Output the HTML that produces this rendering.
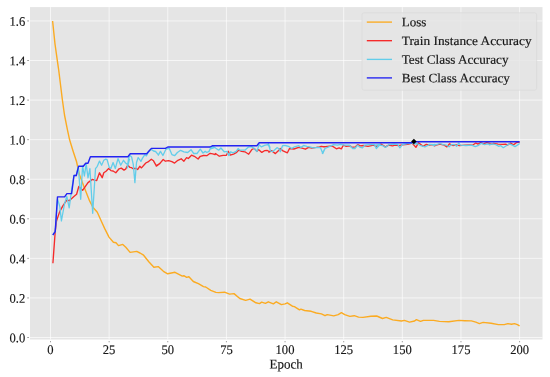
<!DOCTYPE html>
<html><head><meta charset="utf-8"><title>Training curves</title>
<style>
html,body{margin:0;padding:0;background:#fff;}
body{width:550px;height:377px;overflow:hidden;}
svg{display:block;}
text{font-family:"Liberation Serif","DejaVu Serif",serif;fill:#161616;stroke:#161616;stroke-width:0.18px;}
.tl text{font-size:13.1px;stroke-width:0.15px;}
.lg text{font-size:13.35px;}
</style></head><body>
<svg width="550" height="377" viewBox="0 0 550 377">
<rect x="0" y="0" width="550" height="377" fill="#ffffff"/>
<rect x="30.0" y="7.1" width="512.5" height="332.4" fill="#e5e5e5"/>
<g stroke="#ffffff" stroke-width="0.65" fill="none"><line x1="50.50" y1="7.1" x2="50.50" y2="339.5"/><line x1="109.14" y1="7.1" x2="109.14" y2="339.5"/><line x1="167.77" y1="7.1" x2="167.77" y2="339.5"/><line x1="226.41" y1="7.1" x2="226.41" y2="339.5"/><line x1="285.05" y1="7.1" x2="285.05" y2="339.5"/><line x1="343.69" y1="7.1" x2="343.69" y2="339.5"/><line x1="402.32" y1="7.1" x2="402.32" y2="339.5"/><line x1="460.96" y1="7.1" x2="460.96" y2="339.5"/><line x1="519.60" y1="7.1" x2="519.60" y2="339.5"/><line x1="30.0" y1="337.50" x2="542.5" y2="337.50"/><line x1="30.0" y1="297.93" x2="542.5" y2="297.93"/><line x1="30.0" y1="258.36" x2="542.5" y2="258.36"/><line x1="30.0" y1="218.79" x2="542.5" y2="218.79"/><line x1="30.0" y1="179.22" x2="542.5" y2="179.22"/><line x1="30.0" y1="139.65" x2="542.5" y2="139.65"/><line x1="30.0" y1="100.08" x2="542.5" y2="100.08"/><line x1="30.0" y1="60.51" x2="542.5" y2="60.51"/><line x1="30.0" y1="20.94" x2="542.5" y2="20.94"/></g>
<g stroke="#777777" stroke-width="0.7" fill="none"><line x1="50.50" y1="341.0" x2="50.50" y2="342.3"/><line x1="109.14" y1="341.0" x2="109.14" y2="342.3"/><line x1="167.77" y1="341.0" x2="167.77" y2="342.3"/><line x1="226.41" y1="341.0" x2="226.41" y2="342.3"/><line x1="285.05" y1="341.0" x2="285.05" y2="342.3"/><line x1="343.69" y1="341.0" x2="343.69" y2="342.3"/><line x1="402.32" y1="341.0" x2="402.32" y2="342.3"/><line x1="460.96" y1="341.0" x2="460.96" y2="342.3"/><line x1="519.60" y1="341.0" x2="519.60" y2="342.3"/><line x1="27.2" y1="337.50" x2="29.0" y2="337.50"/><line x1="27.2" y1="297.93" x2="29.0" y2="297.93"/><line x1="27.2" y1="258.36" x2="29.0" y2="258.36"/><line x1="27.2" y1="218.79" x2="29.0" y2="218.79"/><line x1="27.2" y1="179.22" x2="29.0" y2="179.22"/><line x1="27.2" y1="139.65" x2="29.0" y2="139.65"/><line x1="27.2" y1="100.08" x2="29.0" y2="100.08"/><line x1="27.2" y1="60.51" x2="29.0" y2="60.51"/><line x1="27.2" y1="20.94" x2="29.0" y2="20.94"/></g>
<g fill="none" stroke-linejoin="round" stroke-linecap="butt">
<polyline stroke="#fbab22" stroke-width="1.4" points="52.6,21.0 55.0,44.0 57.3,60.4 58.7,70.0 62.4,100.0 64.5,115.0 67.4,129.6 69.6,139.8 73.2,151.5 76.5,161.5 79.4,174.6 83.8,186.3 89.6,200.9 92.9,207.2 97.3,212.3 100.9,220.3 104.6,228.4 109.0,237.1 113.4,242.2 116.0,242.7 118.5,245.6 122.8,244.4 125.8,247.3 130.1,252.4 136.7,251.4 140.0,253.0 143.6,255.2 148.8,261.8 153.9,267.2 158.2,266.6 163.4,271.3 167.7,273.8 175.0,272.3 182.3,276.1 183.8,275.7 186.7,277.4 188.9,276.8 193.3,281.5 198.4,283.7 203.5,286.6 205.7,287.0 210.8,290.3 215.9,292.4 218.6,292.6 224.5,292.2 229.6,294.1 234.0,293.6 239.8,298.5 245.7,300.4 250.0,299.2 255.9,302.8 259.5,303.6 261.7,302.1 265.4,303.3 268.3,301.8 273.4,303.9 276.3,301.8 281.4,304.6 285.1,303.9 287.3,302.8 292.4,306.2 294.4,306.6 299.5,309.8 300.9,309.1 304.6,310.5 311.2,311.3 316.3,313.0 321.4,313.9 325.0,315.7 327.2,314.6 333.8,315.9 338.2,314.6 341.4,312.7 344.7,314.6 349.9,316.4 354.2,315.7 358.6,317.1 363.0,317.4 370.8,316.3 376.7,316.0 382.5,318.5 386.2,317.4 392.7,319.9 401.5,321.0 404.4,320.4 409.5,322.1 414.6,321.0 416.4,319.6 420.5,321.4 423.4,320.4 433.6,320.4 439.5,321.4 448.8,321.8 459.0,320.4 464.8,320.7 471.4,320.9 475.8,322.1 479.4,323.6 483.1,322.4 491.1,323.3 498.4,324.6 504.2,324.6 507.9,323.6 511.5,324.3 514.5,323.6 517.4,324.6 519.6,325.8"/>
<polyline stroke="#f52a2a" stroke-width="1.35" points="52.9,263.3 55.2,231.7 56.5,221.0 59.7,211.6 63.0,205.6 66.8,200.2 69.2,200.7 73.9,196.4 76.6,194.2 78.8,186.5 82.6,190.4 88.0,182.6 92.4,179.4 94.5,180.1 96.7,180.5 99.5,172.8 102.2,177.7 103.8,172.8 106.0,171.2 108.7,168.5 110.9,170.6 113.1,171.0 115.8,172.8 119.1,168.8 121.3,168.1 124.0,170.1 125.6,169.2 127.8,165.2 130.0,167.4 131.6,167.7 132.7,168.5 136.0,168.5 137.6,169.5 139.8,166.3 141.5,167.9 145.8,163.0 148.0,161.9 151.3,159.2 153.5,160.8 156.2,165.7 160.0,163.5 156.3,166.1 159.9,163.4 163.2,159.5 165.4,161.2 168.6,160.6 171.9,161.7 174.6,163.1 177.9,160.3 181.2,158.8 183.9,161.2 186.6,157.7 188.3,158.5 191.5,155.2 194.3,156.3 198.1,159.0 200.3,156.3 203.5,155.5 206.8,155.7 210.1,153.3 212.8,153.8 215.0,154.6 215.5,153.5 219.3,156.2 223.1,155.3 226.4,155.3 228.3,151.3 230.2,155.1 233.5,154.2 236.2,152.7 238.6,150.2 241.6,151.3 244.9,151.8 248.7,154.2 252.0,149.4 254.2,148.5 256.9,151.3 258.5,149.6 261.8,152.4 264.5,150.7 267.3,150.5 270.0,151.8 268.8,152.1 271.5,150.6 275.4,153.6 278.6,150.6 280.3,148.5 282.5,150.6 287.4,152.8 289.5,148.5 293.9,149.0 298.8,147.4 302.1,148.1 305.4,149.2 308.6,147.4 311.9,148.1 316.3,147.4 319.5,146.8 321.2,146.3 325.0,146.8 323.3,146.8 327.6,146.3 332.0,145.9 336.4,148.8 339.1,147.9 341.3,148.8 343.5,145.2 346.2,146.3 350.0,145.9 352.2,147.4 355.5,146.8 357.6,144.6 360.4,145.9 363.6,145.5 368.0,146.3 373.5,145.2 376.7,146.3 380.0,144.6 378.3,145.7 381.0,144.1 385.4,146.8 388.6,145.2 392.5,145.9 395.2,145.2 398.5,145.7 402.3,144.9 407.7,144.4 412.1,143.0 415.9,147.4 418.6,142.7 423.0,146.3 426.3,144.4 429.5,145.2 432.8,144.6 435.0,145.7 434.4,145.7 439.8,144.1 444.2,145.2 446.9,146.8 449.6,143.8 452.9,145.5 456.2,144.9 459.5,145.7 464.9,145.2 469.3,144.9 472.5,145.2 475.8,143.0 478.0,144.1 480.7,142.5 483.5,143.8 486.7,142.7 490.0,143.5 487.7,143.0 490.5,144.4 493.7,143.3 498.1,144.1 502.5,144.4 505.7,144.1 507.4,145.2 510.6,143.0 513.4,144.9 516.6,142.5 519.7,142.2"/>
<polyline stroke="#62cdea" stroke-width="1.3" points="52.9,235.0 55.2,231.7 57.5,199.0 59.9,206.9 61.4,221.0 64.5,204.0 66.8,196.4 69.2,207.8 71.6,190.0 73.9,175.5 76.2,175.5 78.3,166.3 80.7,199.3 82.6,165.8 84.4,176.0 86.2,163.9 88.0,177.8 89.9,168.6 92.7,213.3 95.5,168.6 97.3,166.3 99.5,161.1 101.6,165.2 103.8,160.3 105.5,159.2 107.1,159.7 109.3,167.4 110.9,168.5 113.1,162.5 115.3,168.5 118.0,158.6 120.7,165.2 123.5,160.3 125.6,163.0 127.8,164.6 129.5,159.2 127.3,167.9 128.6,158.1 130.0,155.4 131.6,157.0 133.3,164.6 134.9,182.6 136.5,162.5 138.2,157.5 140.9,161.4 142.5,158.1 144.7,154.8 146.4,155.9 148.0,152.6 151.3,149.4 153.5,151.0 155.6,151.5 158.4,154.8 160.0,152.1 158.3,155.2 160.5,151.4 162.9,155.5 165.9,149.2 169.2,148.3 171.9,154.6 174.6,155.7 177.4,152.5 180.6,150.3 183.9,151.9 187.7,152.5 191.0,149.7 193.7,153.5 197.0,153.5 200.3,149.2 203.0,153.0 205.2,151.4 206.8,152.5 209.0,151.4 211.2,146.8 213.4,146.5 215.0,147.5 210.0,149.1 212.7,146.4 215.5,148.0 218.7,150.2 220.9,148.0 224.2,151.8 226.9,151.3 228.8,155.6 230.7,151.8 232.9,152.9 236.2,151.3 238.1,148.5 240.0,150.2 244.9,150.2 248.2,147.2 251.5,146.6 254.2,148.5 256.9,151.6 259.1,144.7 261.3,146.9 264.5,145.3 267.8,144.7 270.0,147.5 268.3,143.5 270.5,151.0 272.6,151.7 277.0,147.7 278.6,148.5 280.3,151.7 282.5,145.7 285.2,145.5 288.5,146.3 291.7,148.5 294.5,146.8 298.8,145.7 301.0,147.4 303.7,145.5 307.0,146.3 309.7,146.8 313.0,147.9 318.5,147.4 320.6,147.9 322.8,153.6 325.0,148.5 322.4,153.4 324.9,148.5 329.3,146.6 333.6,144.6 337.5,145.2 340.7,144.4 344.0,145.2 349.5,145.2 352.7,148.5 354.9,148.5 357.6,145.2 360.4,147.4 362.5,147.9 364.7,145.2 369.1,144.6 374.5,144.6 376.5,148.5 378.4,145.2 380.0,144.4 375.0,145.2 376.3,148.5 379.4,145.2 382.6,145.5 385.4,147.4 389.2,144.6 394.6,144.1 397.9,144.6 399.9,147.9 402.3,144.6 407.7,143.5 412.1,143.0 414.3,143.8 417.0,143.5 419.9,145.3 424.9,146.8 427.4,145.7 429.5,144.4 433.4,144.6 435.0,144.4 433.3,145.7 436.5,144.6 439.8,143.5 443.1,144.6 446.4,145.2 449.1,146.8 451.3,144.6 454.5,144.6 456.7,146.3 458.6,143.0 460.5,145.2 466.0,145.5 471.5,145.2 475.3,146.6 478.0,145.7 481.3,143.3 484.5,144.6 487.8,143.8 490.0,144.4 489.4,144.9 492.6,143.8 495.9,144.6 498.6,146.3 500.8,145.7 503.3,147.7 506.3,145.7 509.5,143.8 512.3,145.2 515.0,146.6 517.7,144.9 519.7,143.5"/>
<polyline stroke="#2222f2" stroke-width="1.4" points="52.8,235.0 55.2,231.7 57.5,196.9 64.6,196.9 66.9,193.6 71.6,193.6 74.0,175.5 76.3,175.5 78.6,166.3 83.3,166.3 85.7,163.2 88.0,163.2 90.4,156.8 127.9,156.8 130.2,153.8 146.7,153.8 149.0,151.0 151.4,148.4 165.4,148.4 167.8,147.0 210.0,147.0 212.3,145.8 256.9,145.8 259.2,142.8 411.7,142.7 414.1,141.7 519.6,141.7"/>
</g>
<polygon points="413.9,138.75 416.65,141.5 413.9,144.25 411.15,141.5" fill="#000000"/>
<g class="tl"><text transform="translate(50.5,354.0) rotate(0.05) scale(0.96,1.0)" text-anchor="middle">0</text><text transform="translate(109.1,354.0) rotate(0.05) scale(0.96,1.0)" text-anchor="middle">25</text><text transform="translate(167.8,354.0) rotate(0.05) scale(0.96,1.0)" text-anchor="middle">50</text><text transform="translate(226.4,354.0) rotate(0.05) scale(0.96,1.0)" text-anchor="middle">75</text><text transform="translate(285.0,354.0) rotate(0.05) scale(0.96,1.0)" text-anchor="middle">100</text><text transform="translate(343.7,354.0) rotate(0.05) scale(0.96,1.0)" text-anchor="middle">125</text><text transform="translate(402.3,354.0) rotate(0.05) scale(0.96,1.0)" text-anchor="middle">150</text><text transform="translate(461.0,354.0) rotate(0.05) scale(0.96,1.0)" text-anchor="middle">175</text><text transform="translate(519.6,354.0) rotate(0.05) scale(0.96,1.0)" text-anchor="middle">200</text><text transform="translate(25.3,342.3) rotate(0.05) scale(0.96,1.0)" text-anchor="end">0.0</text><text transform="translate(25.3,302.7) rotate(0.05) scale(0.96,1.0)" text-anchor="end">0.2</text><text transform="translate(25.3,263.2) rotate(0.05) scale(0.96,1.0)" text-anchor="end">0.4</text><text transform="translate(25.3,223.6) rotate(0.05) scale(0.96,1.0)" text-anchor="end">0.6</text><text transform="translate(25.3,184.0) rotate(0.05) scale(0.96,1.0)" text-anchor="end">0.8</text><text transform="translate(25.3,144.5) rotate(0.05) scale(0.96,1.0)" text-anchor="end">1.0</text><text transform="translate(25.3,104.9) rotate(0.05) scale(0.96,1.0)" text-anchor="end">1.2</text><text transform="translate(25.3,65.3) rotate(0.05) scale(0.96,1.0)" text-anchor="end">1.4</text><text transform="translate(25.3,25.7) rotate(0.05) scale(0.96,1.0)" text-anchor="end">1.6</text>
<text transform="translate(286.2,368.6) rotate(0.05) scale(0.97,1.0)" text-anchor="middle" style="font-size:13.4px">Epoch</text></g>
<g class="lg">
<rect x="362" y="12.8" width="174.6" height="77.4" rx="2" ry="2" fill="#e5e5e5" fill-opacity="0.8" stroke="#dadada" stroke-width="0.7"/>
<line x1="366.8" y1="22.1" x2="392" y2="22.1" stroke="#fbab22" stroke-width="1.35"/><text transform="translate(401.7,26.35) rotate(0.03) scale(0.98,0.96)">Loss</text><line x1="366.8" y1="40.7" x2="392" y2="40.7" stroke="#f52a2a" stroke-width="1.35"/><text transform="translate(401.7,44.95) rotate(0.03) scale(1.0,0.96)">Train Instance Accuracy</text><line x1="366.8" y1="59.4" x2="392" y2="59.4" stroke="#62cdea" stroke-width="1.35"/><text transform="translate(401.7,63.65) rotate(0.03) scale(0.99,0.96)">Test Class Accuracy</text><line x1="366.8" y1="77.9" x2="392" y2="77.9" stroke="#2222f2" stroke-width="1.35"/><text transform="translate(401.7,82.15) rotate(0.03) scale(0.987,0.96)">Best Class Accuracy</text>
</g>
</svg>
</body></html>
